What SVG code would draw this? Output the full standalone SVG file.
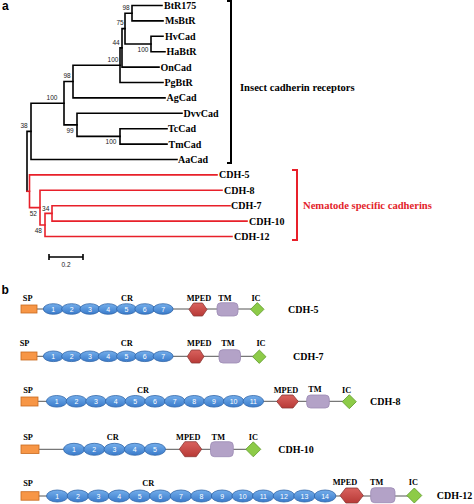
<svg xmlns="http://www.w3.org/2000/svg" width="474" height="504" viewBox="0 0 474 504">
<defs>
<linearGradient id="gBlue" x1="0" y1="0" x2="0" y2="1"><stop offset="0" stop-color="#74AEEB"/><stop offset="1" stop-color="#3A7BCB"/></linearGradient>
<linearGradient id="gRed" x1="0" y1="0" x2="0" y2="1"><stop offset="0" stop-color="#D9625E"/><stop offset="1" stop-color="#B83A37"/></linearGradient>
<style>
.bl{stroke:#000;stroke-width:1.6;fill:none;stroke-linecap:square}
.rd{stroke:#E8202A;stroke-width:1.6;fill:none;stroke-linecap:square}
.leaf{font-family:"Liberation Serif",serif;font-weight:bold;font-size:10px;fill:#000}
.bs{font-family:"Liberation Sans",sans-serif;font-size:6.5px;fill:#222;text-anchor:middle}
.grp{font-family:"Liberation Serif",serif;font-weight:bold;font-size:10.6px}
.dl{font-family:"Liberation Serif",serif;font-weight:bold;font-size:8.3px;fill:#000;text-anchor:middle}
.nm{font-family:"Liberation Serif",serif;font-weight:bold;font-size:10px;fill:#000}
.pl{font-family:"Liberation Sans",sans-serif;font-weight:bold;font-size:12px;fill:#000}
.bb{stroke:#555;stroke-width:1;fill:none}
.sp{fill:#F79646;stroke:#C86A1E;stroke-width:0.8}
.cr{fill:url(#gBlue);stroke:#2F64A8;stroke-width:0.8}
.cn{font-family:"Liberation Sans",sans-serif;font-size:7px;fill:#fff;text-anchor:middle}
.mp{fill:url(#gRed);stroke:#8C3836;stroke-width:0.8}
.tm{fill:#B3A2C7;stroke:#9C8AB4;stroke-width:0.8}
.ic{fill:#8DCB48;stroke:#5E9A2A;stroke-width:0.8}
</style>
</defs>
<rect width="474" height="504" fill="#fff"/>
<text class="pl" x="2" y="10" font-size="10.5">a</text>
<text class="pl" x="1.5" y="294">b</text>

<g id="connectors">
<path class="bl" d="M132,5.5H162M132,20.9H163M132,5.5V20.9"/>
<path class="bl" d="M151,36.3H163M151,51.7H165M151,36.3V51.7"/>
<path class="bl" d="M125,13.2H132M125,44H151M125,13.2V44"/>
<path class="bl" d="M122,28.6H125M122,67.1H159M122,28.6V67.1"/>
<path class="bl" d="M120,47.9H122M120,82.5H163M120,47.9V82.5"/>
<path class="bl" d="M73,65.2H120M73,97.9H165M73,65.2V97.9"/>
<path class="bl" d="M120,128.7H167M120,144.1H167M120,128.7V144.1"/>
<path class="bl" d="M77,113.3H182M77,136.4H120M77,113.3V136.4"/>
<path class="bl" d="M64,81.5H73M64,124.9H77M64,81.5V124.9"/>
<path class="bl" d="M31,103.2H64M31,159.5H177M31,103.2V159.5"/>
<path class="bl" d="M27,131.4H31M27,131.4V191.3"/>
<path class="rd" d="M52,205.7H230M52,221.1H247M52,205.7V221.1"/>
<path class="rd" d="M45,213.4H52M45,236.5H232M45,213.4V236.5"/>
<path class="rd" d="M40,190.3H222M40,225H45M40,190.3V225"/>
<path class="rd" d="M29.5,174.9H217M29.5,207.6H40M29.5,174.9V207.6"/>
<path class="rd" d="M27,191.3H29.5"/>
<path d="M227,1H231V163H227" fill="none" stroke="#000" stroke-width="2"/>
<path d="M292,170H297V240H292" fill="none" stroke="#E8202A" stroke-width="2"/>
<path d="M49,257H83M49,254V260M83,254V260" fill="none" stroke="#000" stroke-width="1.6"/>
</g>

<g id="bootstrap">
<text class="bs" x="126" y="9.6">98</text>
<text class="bs" x="120" y="25.3">75</text>
<text class="bs" x="116" y="45.3">44</text>
<text class="bs" x="113" y="62.3">100</text>
<text class="bs" x="143" y="52.3">100</text>
<text class="bs" x="67" y="78.3">98</text>
<text class="bs" x="52" y="100.3">100</text>
<text class="bs" x="70" y="133.3">99</text>
<text class="bs" x="111" y="144.3">100</text>
<text class="bs" x="24" y="128.3">38</text>
<text class="bs" x="33.3" y="216.3">52</text>
<text class="bs" x="45.7" y="210.6">34</text>
<text class="bs" x="38.3" y="233.3">48</text>
<text class="bs" x="66" y="266.5">0.2</text>
</g>

<g id="leaf-BtR175"><text class="leaf" x="164" y="9">BtR175</text></g>
<g id="leaf-MsBtR"><text class="leaf" x="165" y="24.4">MsBtR</text></g>
<g id="leaf-HvCad"><text class="leaf" x="165" y="39.8">HvCad</text></g>
<g id="leaf-HaBtR"><text class="leaf" x="166.5" y="55.2">HaBtR</text></g>
<g id="leaf-OnCad"><text class="leaf" x="160.5" y="70.6">OnCad</text></g>
<g id="leaf-PgBtR"><text class="leaf" x="164.5" y="86">PgBtR</text></g>
<g id="leaf-AgCad"><text class="leaf" x="166.5" y="101.4">AgCad</text></g>
<g id="leaf-DvvCad"><text class="leaf" x="183.5" y="116.8">DvvCad</text></g>
<g id="leaf-TcCad"><text class="leaf" x="168" y="132.2">TcCad</text></g>
<g id="leaf-TmCad"><text class="leaf" x="168.5" y="147.6">TmCad</text></g>
<g id="leaf-AaCad"><text class="leaf" x="178" y="163">AaCad</text></g>
<g id="leaf-CDH-5"><text class="leaf" x="219" y="178.4">CDH-5</text></g>
<g id="leaf-CDH-8"><text class="leaf" x="224" y="193.8">CDH-8</text></g>
<g id="leaf-CDH-7"><text class="leaf" x="231" y="209.2">CDH-7</text></g>
<g id="leaf-CDH-10"><text class="leaf" x="249" y="224.6">CDH-10</text></g>
<g id="leaf-CDH-12"><text class="leaf" x="234" y="240">CDH-12</text></g>
<g id="label-insect"><text class="grp" x="240" y="90.8" fill="#000">Insect cadherin receptors</text></g>
<g id="label-nematode"><text class="grp" x="303" y="208.5" fill="#E3242B" font-size="11">Nematode specific cadherins</text></g>

<g id="row-CDH-5">
<line class="bb" x1="37" y1="309" x2="257" y2="309"/>
<rect class="sp" x="21" y="305" width="16" height="8"/>
<g class="cr">
<ellipse cx="53.3" cy="309" rx="10" ry="5.3"/><ellipse cx="71.6" cy="309" rx="10" ry="5.3"/><ellipse cx="89.9" cy="309" rx="10" ry="5.3"/><ellipse cx="108.2" cy="309" rx="10" ry="5.3"/><ellipse cx="126.5" cy="309" rx="10" ry="5.3"/><ellipse cx="144.8" cy="309" rx="10" ry="5.3"/><ellipse cx="163.1" cy="309" rx="10" ry="5.3"/>
</g>
<g class="cn"><text x="53.3" y="311.5">1</text><text x="71.6" y="311.5">2</text><text x="89.9" y="311.5">3</text><text x="108.2" y="311.5">4</text><text x="126.5" y="311.5">5</text><text x="144.8" y="311.5">6</text><text x="163.1" y="311.5">7</text></g>
<polygon class="mp" points="189,309.5 193.5,303 202.5,303 207,309.5 202.5,316 193.5,316"/>
<rect class="tm" x="217" y="302.7" width="21" height="13.3" rx="4"/>
<polygon class="ic" points="257.3,302.6 264,309.3 257.3,316 250.6,309.3"/>
<text class="dl" x="27.7" y="301">SP</text><text class="dl" x="127" y="301">CR</text><text class="dl" x="199" y="301">MPED</text><text class="dl" x="225" y="301">TM</text><text class="dl" x="256" y="301">IC</text>
<text class="nm" x="288" y="312.5">CDH-5</text>
</g>

<g id="row-CDH-7">
<line class="bb" x1="37" y1="356.3" x2="259" y2="356.3"/>
<rect class="sp" x="21" y="352" width="16" height="8"/>
<g class="cr">
<ellipse cx="53.3" cy="356.3" rx="10" ry="5.3"/><ellipse cx="71.6" cy="356.3" rx="10" ry="5.3"/><ellipse cx="89.9" cy="356.3" rx="10" ry="5.3"/><ellipse cx="108.2" cy="356.3" rx="10" ry="5.3"/><ellipse cx="126.5" cy="356.3" rx="10" ry="5.3"/><ellipse cx="144.8" cy="356.3" rx="10" ry="5.3"/><ellipse cx="163.1" cy="356.3" rx="10" ry="5.3"/>
</g>
<g class="cn"><text x="53.3" y="358.8">1</text><text x="71.6" y="358.8">2</text><text x="89.9" y="358.8">3</text><text x="108.2" y="358.8">4</text><text x="126.5" y="358.8">5</text><text x="144.8" y="358.8">6</text><text x="163.1" y="358.8">7</text></g>
<polygon class="mp" points="187.3,356.5 191.5,350 199.8,350 204,356.5 199.8,363 191.5,363"/>
<rect class="tm" x="219" y="349.7" width="21.5" height="13.3" rx="4"/>
<polygon class="ic" points="259.3,350 266,356.7 259.3,363.4 252.6,356.7"/>
<text class="dl" x="24.5" y="346.3">SP</text><text class="dl" x="126.7" y="346.3">CR</text><text class="dl" x="199.3" y="346.3">MPED</text><text class="dl" x="228" y="346.3">TM</text><text class="dl" x="261" y="346.3">IC</text>
<text class="nm" x="293" y="360.3">CDH-7</text>
</g>

<g id="row-CDH-8">
<line class="bb" x1="38" y1="401.3" x2="349" y2="401.3"/>
<rect class="sp" x="21" y="397" width="17" height="9"/>
<g class="cr">
<ellipse cx="56.7" cy="401.3" rx="10.3" ry="5.8"/><ellipse cx="76.4" cy="401.3" rx="10.3" ry="5.8"/><ellipse cx="96" cy="401.3" rx="10.3" ry="5.8"/><ellipse cx="115.7" cy="401.3" rx="10.3" ry="5.8"/><ellipse cx="135.3" cy="401.3" rx="10.3" ry="5.8"/><ellipse cx="155" cy="401.3" rx="10.3" ry="5.8"/><ellipse cx="174.7" cy="401.3" rx="10.3" ry="5.8"/><ellipse cx="194.3" cy="401.3" rx="10.3" ry="5.8"/><ellipse cx="214" cy="401.3" rx="10.3" ry="5.8"/><ellipse cx="233.6" cy="401.3" rx="10.3" ry="5.8"/><ellipse cx="253.3" cy="401.3" rx="10.3" ry="5.8"/>
</g>
<g class="cn" font-size="7.5"><text x="56.7" y="404">1</text><text x="76.4" y="404">2</text><text x="96" y="404">3</text><text x="115.7" y="404">4</text><text x="135.3" y="404">5</text><text x="155" y="404">6</text><text x="174.7" y="404">7</text><text x="194.3" y="404">8</text><text x="214" y="404">9</text><text x="233.6" y="404">10</text><text x="253.3" y="404">11</text></g>
<polygon class="mp" points="276.7,401.5 282,395 293,395 298.3,401.5 293,408 282,408"/>
<rect class="tm" x="306.7" y="395" width="22.6" height="13" rx="4"/>
<polygon class="ic" points="349.3,394.7 356.3,401.7 349.3,408.7 342.3,401.7"/>
<text class="dl" x="28" y="392.5">SP</text><text class="dl" x="143" y="392.5">CR</text><text class="dl" x="286" y="392.5">MPED</text><text class="dl" x="315" y="392">TM</text><text class="dl" x="346.7" y="392.5">IC</text>
<text class="nm" x="370" y="405">CDH-8</text>
</g>

<g id="row-CDH-10">
<line class="bb" x1="39" y1="449.3" x2="253" y2="449.3"/>
<rect class="sp" x="21" y="445" width="18" height="8.5"/>
<g class="cr">
<ellipse cx="74" cy="449.3" rx="10.5" ry="6"/><ellipse cx="94.3" cy="449.3" rx="10.5" ry="6"/><ellipse cx="114.5" cy="449.3" rx="10.5" ry="6"/><ellipse cx="134.8" cy="449.3" rx="10.5" ry="6"/><ellipse cx="155" cy="449.3" rx="10.5" ry="6"/>
</g>
<g class="cn" font-size="7.5"><text x="74" y="452">1</text><text x="94.3" y="452">2</text><text x="114.5" y="452">3</text><text x="134.8" y="452">4</text><text x="155" y="452">5</text></g>
<polygon class="mp" points="179.3,449.2 184.8,441.7 196.2,441.7 201.7,449.2 196.2,456.7 184.8,456.7"/>
<rect class="tm" x="210.5" y="441.7" width="22.8" height="15" rx="4"/>
<polygon class="ic" points="253.3,441.8 260.8,449.3 253.3,456.8 245.8,449.3"/>
<text class="dl" x="28" y="440">SP</text><text class="dl" x="112.7" y="439.5">CR</text><text class="dl" x="188.3" y="440">MPED</text><text class="dl" x="218.3" y="440">TM</text><text class="dl" x="253.3" y="440">IC</text>
<text class="nm" x="278.3" y="453">CDH-10</text>
</g>

<g id="row-CDH-12">
<line class="bb" x1="39" y1="496" x2="414" y2="496"/>
<rect class="sp" x="21" y="491.7" width="18" height="8.5"/>
<g class="cr">
<ellipse cx="57.3" cy="496" rx="10.8" ry="6"/><ellipse cx="77.9" cy="496" rx="10.8" ry="6"/><ellipse cx="98.5" cy="496" rx="10.8" ry="6"/><ellipse cx="119.1" cy="496" rx="10.8" ry="6"/><ellipse cx="139.7" cy="496" rx="10.8" ry="6"/><ellipse cx="160.3" cy="496" rx="10.8" ry="6"/><ellipse cx="180.9" cy="496" rx="10.8" ry="6"/><ellipse cx="201.5" cy="496" rx="10.8" ry="6"/><ellipse cx="222.1" cy="496" rx="10.8" ry="6"/><ellipse cx="242.7" cy="496" rx="10.8" ry="6"/><ellipse cx="263.3" cy="496" rx="10.8" ry="6"/><ellipse cx="283.9" cy="496" rx="10.8" ry="6"/><ellipse cx="304.5" cy="496" rx="10.8" ry="6"/><ellipse cx="325.1" cy="496" rx="10.8" ry="6"/>
</g>
<g class="cn" font-size="7.5"><text x="57.3" y="498.7">1</text><text x="77.9" y="498.7">2</text><text x="98.5" y="498.7">3</text><text x="119.1" y="498.7">4</text><text x="139.7" y="498.7">5</text><text x="160.3" y="498.7">6</text><text x="180.9" y="498.7">7</text><text x="201.5" y="498.7">8</text><text x="222.1" y="498.7">9</text><text x="242.7" y="498.7">10</text><text x="263.3" y="498.7">11</text><text x="283.9" y="498.7">12</text><text x="304.5" y="498.7">13</text><text x="325.1" y="498.7">14</text></g>
<polygon class="mp" points="340,495.5 345.8,488 357.5,488 363.3,495.5 357.5,503 345.8,503"/>
<rect class="tm" x="370.7" y="487.7" width="24.3" height="15" rx="4"/>
<polygon class="ic" points="414.3,488 421.8,495.5 414.3,503 406.8,495.5"/>
<text class="dl" x="28" y="485.5">SP</text><text class="dl" x="148.3" y="485.5">CR</text><text class="dl" x="345" y="485">MPED</text><text class="dl" x="376.7" y="485">TM</text><text class="dl" x="413.3" y="485">IC</text>
<text class="nm" x="436.7" y="499">CDH-12</text>
</g>
</svg>
